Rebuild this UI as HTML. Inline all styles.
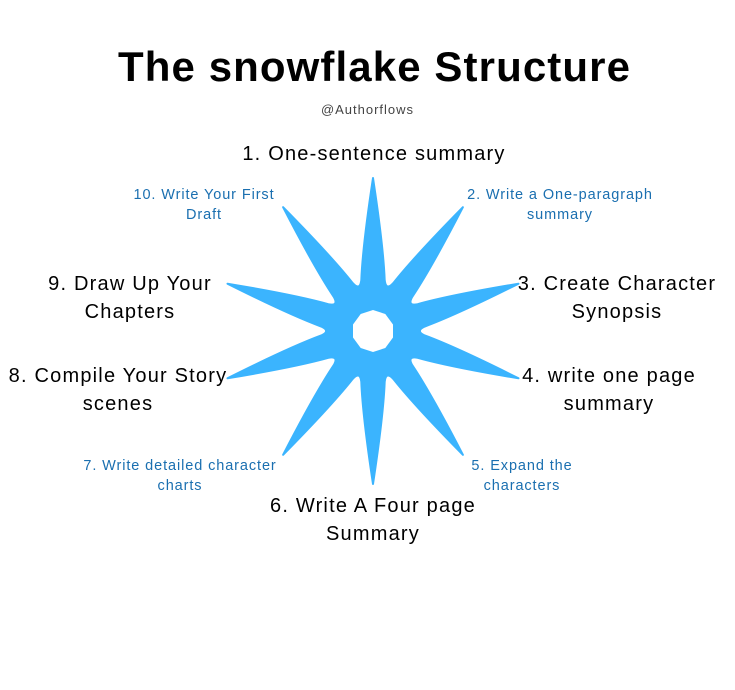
<!DOCTYPE html>
<html><head><style>
body{margin:0;width:735px;height:690px;background:#fff;font-family:"Liberation Sans",sans-serif;position:relative;overflow:hidden}
.t{position:absolute;text-align:center;white-space:nowrap}
.b{color:#000;font-size:20px;line-height:28px;letter-spacing:1.2px}
.s{color:#1a6fb0;font-size:14.5px;line-height:20px;letter-spacing:0.9px}
</style></head><body>
<div class="t" style="left:7px;width:735px;top:42px;font-size:42px;font-weight:bold;line-height:50px;letter-spacing:1.1px">The snowflake Structure</div>
<div class="t" style="left:0;width:735px;top:102px;font-size:13px;color:#444;letter-spacing:1px">@Authorflows</div>
<svg style="position:absolute;left:0;top:0" width="735" height="690">
<path id="st" fill="#3bb4fe" stroke="#3bb4fe" stroke-width="2" stroke-linejoin="round" d=""/>
<polygon fill="#fff" points=""/>
</svg>
<script>
var cx=373,cy=331,R=153,d='',h=[];
function pt(deg,rr){var a=deg*Math.PI/180;return (cx+rr*Math.cos(a)).toFixed(1)+','+(cy+rr*Math.sin(a)).toFixed(1);}
for(var i=0;i<10;i++){var t=-90+i*36;
 if(i==0)d+='M'+pt(t,R);
 d+=' Q'+pt(t+7,85)+' '+pt(t+13,52);
 d+=' Q'+pt(t+18,42)+' '+pt(t+23,52);
 d+=' Q'+pt(t+29,85)+' '+pt(t+36,R);}
d+='Z';
for(var i=0;i<10;i++){h.push(pt(-90+i*36,21));}
document.getElementById('st').setAttribute('d',d);
document.querySelector('polygon').setAttribute('points',h.join(' '));
</script>
<div class="t b" style="left:224px;width:300px;top:140px">1. One-sentence summary</div>
<div class="t s" style="left:445px;width:230px;top:185px">2. Write a One-paragraph<br>summary</div>
<div class="t b" style="left:502px;width:230px;top:270px">3. Create Character<br>Synopsis</div>
<div class="t b" style="left:494px;width:230px;top:362px">4. write one page<br>summary</div>
<div class="t s" style="left:452px;width:140px;top:456px">5. Expand the<br>characters</div>
<div class="t b" style="left:240px;width:266px;top:492px">6. Write A Four page<br>Summary</div>
<div class="t s" style="left:60px;width:240px;top:456px">7. Write detailed character<br>charts</div>
<div class="t b" style="left:-5px;width:246px;top:362px">8. Compile Your Story<br>scenes</div>
<div class="t b" style="left:20px;width:220px;top:270px">9. Draw Up Your<br>Chapters</div>
<div class="t s" style="left:104px;width:200px;top:185px">10. Write Your First<br>Draft</div>
</body></html>
